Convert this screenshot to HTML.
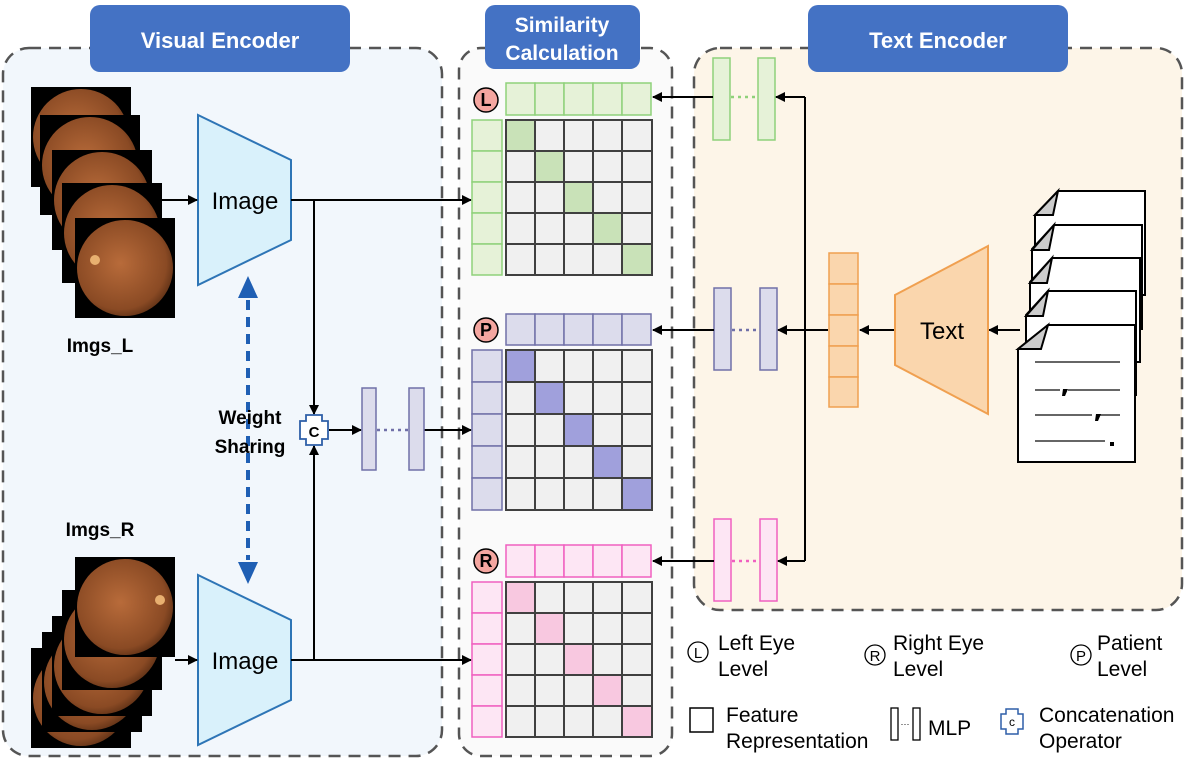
<!DOCTYPE html><html><head><meta charset="utf-8"><style>body{margin:0;background:#fff}svg{display:block;font-family:"Liberation Sans",sans-serif}</style></head><body>
<svg width="1184" height="763" viewBox="0 0 1184 763" xmlns="http://www.w3.org/2000/svg">
<defs>
<marker id="a" markerWidth="10" markerHeight="10" refX="9" refY="5" orient="auto" markerUnits="userSpaceOnUse"><path d="M0,0L10,5L0,10z" fill="#000"/></marker>
<radialGradient id="f" cx="0.45" cy="0.45" r="0.6"><stop offset="0" stop-color="#b86b3a"/><stop offset="0.8" stop-color="#8a4a24"/><stop offset="1" stop-color="#5a2e14"/></radialGradient>
<g id="fd"><rect width="100" height="100" fill="#000"/><circle cx="50" cy="50" r="48" fill="url(#f)"/></g>
</defs>
<rect x="3" y="48" width="439" height="708" rx="26" fill="#f2f7fc" stroke="#555" stroke-width="2.5" stroke-dasharray="12,8"/>
<rect x="459" y="48" width="213" height="708" rx="22" fill="#fafafa" stroke="#555" stroke-width="2.5" stroke-dasharray="12,8"/>
<rect x="694" y="48" width="488" height="562" rx="26" fill="#fdf5e8" stroke="#555" stroke-width="2.5" stroke-dasharray="12,8"/>
<rect x="90" y="5" width="260" height="67" rx="10" fill="#4472c4"/>
<text x="220" y="48" font-size="22" font-weight="bold" fill="#fff" text-anchor="middle">Visual Encoder</text>
<rect x="485" y="5" width="155" height="64" rx="10" fill="#4472c4"/>
<text x="562" y="32" font-size="21" font-weight="bold" fill="#fff" text-anchor="middle">Similarity</text>
<text x="562" y="60" font-size="21" font-weight="bold" fill="#fff" text-anchor="middle">Calculation</text>
<rect x="808" y="5" width="260" height="67" rx="10" fill="#4472c4"/>
<text x="938" y="48" font-size="22" font-weight="bold" fill="#fff" text-anchor="middle">Text Encoder</text>
<use href="#fd" x="31" y="87"/><use href="#fd" x="40" y="115"/><use href="#fd" x="52" y="150"/><use href="#fd" x="62" y="183"/><use href="#fd" x="75" y="218"/>
<circle cx="95" cy="260" r="5" fill="#e8b070"/>
<use href="#fd" x="31" y="648"/><use href="#fd" x="42" y="632"/><use href="#fd" x="52" y="616"/><use href="#fd" x="62" y="590"/><use href="#fd" x="75" y="557"/>
<circle cx="160" cy="600" r="5" fill="#e8b070"/>
<text x="100" y="352" font-size="19" font-weight="bold" text-anchor="middle">Imgs_L</text>
<text x="100" y="536" font-size="19" font-weight="bold" text-anchor="middle">Imgs_R</text>
<polygon points="198,115 291,160 291,240 198,285" fill="#d9f1fb" stroke="#2e75b6" stroke-width="2"/>
<text x="245" y="209" font-size="24" text-anchor="middle">Image</text>
<polygon points="198,575 291,620 291,700 198,745" fill="#d9f1fb" stroke="#2e75b6" stroke-width="2"/>
<text x="245" y="669" font-size="24" text-anchor="middle">Image</text>
<g stroke="#000" stroke-width="2" fill="none">
<line x1="160" y1="200" x2="197" y2="200" marker-end="url(#a)"/>
<line x1="175" y1="660" x2="197" y2="660" marker-end="url(#a)"/>
<line x1="291" y1="200" x2="471" y2="200" marker-end="url(#a)"/>
<line x1="291" y1="660" x2="471" y2="660" marker-end="url(#a)"/>
<line x1="314" y1="200" x2="314" y2="414" marker-end="url(#a)"/>
<line x1="314" y1="660" x2="314" y2="446" marker-end="url(#a)"/>
<line x1="329" y1="430" x2="361" y2="430" marker-end="url(#a)"/>
<line x1="424" y1="430" x2="471" y2="430" marker-end="url(#a)"/>
</g>
<line x1="248" y1="300" x2="248" y2="560" stroke="#1f5fb4" stroke-width="4" stroke-dasharray="10,7"/>
<path d="M248,276L258,298L238,298z M248,584L258,562L238,562z" fill="#1f5fb4"/>
<text x="250" y="424" font-size="19" font-weight="bold" text-anchor="middle">Weight</text>
<text x="250" y="453" font-size="19" font-weight="bold" text-anchor="middle">Sharing</text>
<path d="M306,415h16v6h6v18h-6v6h-16v-6h-6v-18h6z" fill="#fff" stroke="#2e5fa8" stroke-width="1.8"/>
<text x="314" y="437" font-size="15" font-weight="bold" text-anchor="middle">C</text>
<rect x="362" y="388" width="14" height="82" fill="#dcdcec" stroke="#7070a8" stroke-width="1.5"/>
<rect x="409" y="388" width="15" height="82" fill="#dcdcec" stroke="#7070a8" stroke-width="1.5"/>
<line x1="377" y1="430" x2="408" y2="430" stroke="#7070a8" stroke-width="2.5" stroke-dasharray="3,4"/>
<g stroke-width="1.5">
<g fill="#e6f2d8" stroke="#8fd17a"><rect x="506" y="83" width="29" height="32"/><rect x="535" y="83" width="29" height="32"/><rect x="564" y="83" width="29" height="32"/><rect x="593" y="83" width="29" height="32"/><rect x="622" y="83" width="29" height="32"/>
<rect x="472" y="120" width="30" height="31"/><rect x="472" y="151" width="30" height="31"/><rect x="472" y="182" width="30" height="31"/><rect x="472" y="213" width="30" height="31"/><rect x="472" y="244" width="30" height="31"/></g>
<g fill="#dcdcec" stroke="#7070a8"><rect x="506" y="314" width="29" height="31"/><rect x="535" y="314" width="29" height="31"/><rect x="564" y="314" width="29" height="31"/><rect x="593" y="314" width="29" height="31"/><rect x="622" y="314" width="29" height="31"/>
<rect x="472" y="350" width="30" height="32"/><rect x="472" y="382" width="30" height="32"/><rect x="472" y="414" width="30" height="32"/><rect x="472" y="446" width="30" height="32"/><rect x="472" y="478" width="30" height="32"/></g>
<g fill="#fde6f4" stroke="#f060c0"><rect x="506" y="545" width="29" height="32"/><rect x="535" y="545" width="29" height="32"/><rect x="564" y="545" width="29" height="32"/><rect x="593" y="545" width="29" height="32"/><rect x="622" y="545" width="29" height="32"/>
<rect x="472" y="582" width="30" height="31"/><rect x="472" y="613" width="30" height="31"/><rect x="472" y="644" width="30" height="31"/><rect x="472" y="675" width="30" height="31"/><rect x="472" y="706" width="30" height="31"/></g>
</g>
<g stroke="#404040" stroke-width="1.5" fill="#f0f0f0">
<rect x="506" y="120" width="146" height="155"/><rect x="506" y="350" width="146" height="160"/><rect x="506" y="582" width="146" height="155"/>
</g>
<g fill="#c9e2b8"><rect x="506" y="120" width="29" height="31"/><rect x="535" y="151" width="29" height="31"/><rect x="564" y="182" width="29" height="31"/><rect x="593" y="213" width="29" height="31"/><rect x="622" y="244" width="30" height="31"/></g>
<g fill="#a0a0dc"><rect x="506" y="350" width="29" height="32"/><rect x="535" y="382" width="29" height="32"/><rect x="564" y="414" width="29" height="32"/><rect x="593" y="446" width="29" height="32"/><rect x="622" y="478" width="30" height="32"/></g>
<g fill="#f8c8e0"><rect x="506" y="582" width="29" height="31"/><rect x="535" y="613" width="29" height="31"/><rect x="564" y="644" width="29" height="31"/><rect x="593" y="675" width="29" height="31"/><rect x="622" y="706" width="30" height="31"/></g>
<g stroke="#404040" stroke-width="2" fill="none">
<path d="M535,120v155M564,120v155M593,120v155M622,120v155M506,151h146M506,182h146M506,213h146M506,244h146"/>
<path d="M535,350v160M564,350v160M593,350v160M622,350v160M506,382h146M506,414h146M506,446h146M506,478h146"/>
<path d="M535,582v155M564,582v155M593,582v155M622,582v155M506,613h146M506,644h146M506,675h146M506,706h146"/>
<rect x="506" y="120" width="146" height="155"/><rect x="506" y="350" width="146" height="160"/><rect x="506" y="582" width="146" height="155"/>
</g>
<g font-size="18" font-weight="bold" text-anchor="middle">
<circle cx="486" cy="100" r="12" fill="#f4a6a0" stroke="#000" stroke-width="1.5"/><text x="486" y="106">L</text>
<circle cx="486" cy="330" r="12" fill="#f4a6a0" stroke="#000" stroke-width="1.5"/><text x="486" y="336">P</text>
<circle cx="486" cy="561" r="12" fill="#f4a6a0" stroke="#000" stroke-width="1.5"/><text x="486" y="567">R</text>
</g>
<g stroke-width="1.5">
<rect x="713" y="58" width="17" height="82" fill="#e6f2d8" stroke="#8fd17a"/><rect x="758" y="58" width="17" height="82" fill="#e6f2d8" stroke="#8fd17a"/>
<rect x="714" y="288" width="17" height="82" fill="#dcdcec" stroke="#7070a8"/><rect x="760" y="288" width="17" height="82" fill="#dcdcec" stroke="#7070a8"/>
<rect x="714" y="519" width="17" height="82" fill="#fde6f4" stroke="#f060c0"/><rect x="760" y="519" width="17" height="82" fill="#fde6f4" stroke="#f060c0"/>
</g>
<line x1="731" y1="97" x2="757" y2="97" stroke="#8fd17a" stroke-width="2.5" stroke-dasharray="3,4"/>
<line x1="732" y1="330" x2="759" y2="330" stroke="#7070a8" stroke-width="2.5" stroke-dasharray="3,4"/>
<line x1="732" y1="561" x2="759" y2="561" stroke="#f060c0" stroke-width="2.5" stroke-dasharray="3,4"/>
<g stroke="#000" stroke-width="2" fill="none">
<line x1="713" y1="97" x2="653" y2="97" marker-end="url(#a)"/>
<line x1="714" y1="330" x2="653" y2="330" marker-end="url(#a)"/>
<line x1="714" y1="561" x2="653" y2="561" marker-end="url(#a)"/>
<line x1="805" y1="97" x2="805" y2="561"/>
<line x1="805" y1="97" x2="776" y2="97" marker-end="url(#a)"/>
<line x1="828" y1="330" x2="778" y2="330" marker-end="url(#a)"/>
<line x1="805" y1="561" x2="778" y2="561" marker-end="url(#a)"/>
<line x1="894" y1="330" x2="860" y2="330" marker-end="url(#a)"/>
<line x1="1020" y1="330" x2="989" y2="330" marker-end="url(#a)"/>
</g>
<g fill="#fad6ad" stroke="#f0a050" stroke-width="1.5"><rect x="829" y="253" width="29" height="31"/><rect x="829" y="284" width="29" height="31"/><rect x="829" y="315" width="29" height="31"/><rect x="829" y="346" width="29" height="31"/><rect x="829" y="377" width="29" height="30"/></g>
<polygon points="895,295 988,246 988,414 895,365" fill="#fad6ad" stroke="#f0a050" stroke-width="2"/>
<text x="942" y="339" font-size="24" text-anchor="middle">Text</text>
<g stroke="#000" stroke-width="2" fill="#fff">
<path d="M1058,191h87v104h-110v-80z"/><path d="M1035,215l23,-24l-5,24z" fill="#ccc"/>
<path d="M1054,225h88v104h-110v-80z"/><path d="M1032,250l22,-25l-5,25z" fill="#ccc"/>
<path d="M1052,258h88v104h-110v-80z"/><path d="M1030,283l22,-25l-5,25z" fill="#ccc"/>
<path d="M1048,291h88v104h-110v-80z"/><path d="M1026,316l22,-25l-5,25z" fill="#ccc"/>
<path d="M1048,325h87v137h-117v-113z"/><path d="M1018,349l30,-24l-7,24z" fill="#ccc"/>
</g>
<g stroke="#333" stroke-width="1.5"><line x1="1035" y1="362" x2="1120" y2="362"/><line x1="1035" y1="390" x2="1060" y2="390"/><line x1="1068" y1="390" x2="1120" y2="390"/><line x1="1035" y1="415" x2="1092" y2="415"/><line x1="1100" y1="415" x2="1120" y2="415"/><line x1="1035" y1="441" x2="1105" y2="441"/></g>
<g fill="#000"><path d="M1063,389h5l-3,7h-3z"/><path d="M1096,414h5l-3,7h-3z"/><rect x="1110" y="442" width="4" height="4"/></g>
<g font-size="21">
<circle cx="698" cy="652" r="10" fill="none" stroke="#000" stroke-width="1.3"/><text x="698" y="658" font-size="15" text-anchor="middle">L</text>
<text x="718" y="650">Left Eye</text><text x="718" y="676">Level</text>
<circle cx="875" cy="655" r="10" fill="none" stroke="#000" stroke-width="1.3"/><text x="875" y="661" font-size="15" text-anchor="middle">R</text>
<text x="893" y="650">Right Eye</text><text x="893" y="676">Level</text>
<circle cx="1081" cy="655" r="10" fill="none" stroke="#000" stroke-width="1.3"/><text x="1081" y="661" font-size="15" text-anchor="middle">P</text>
<text x="1097" y="650">Patient</text><text x="1097" y="676">Level</text>
<rect x="690" y="708" width="23" height="24" fill="none" stroke="#000" stroke-width="1.5"/>
<text x="726" y="722">Feature</text><text x="726" y="748">Representation</text>
<rect x="891" y="708" width="7" height="32" fill="none" stroke="#000" stroke-width="1.3"/><rect x="913" y="708" width="7" height="32" fill="none" stroke="#000" stroke-width="1.3"/>
<text x="905" y="727" font-size="9" text-anchor="middle">···</text>
<text x="928" y="735">MLP</text>
<path d="M1006,709h12v5h5v15h-5v5h-12v-5h-5v-15h5z" fill="#fff" stroke="#2e5fa8" stroke-width="1.5"/>
<text x="1012" y="726" font-size="12" text-anchor="middle">c</text>
<text x="1039" y="722">Concatenation</text><text x="1039" y="748">Operator</text>
</g>
</svg>
</body></html>
